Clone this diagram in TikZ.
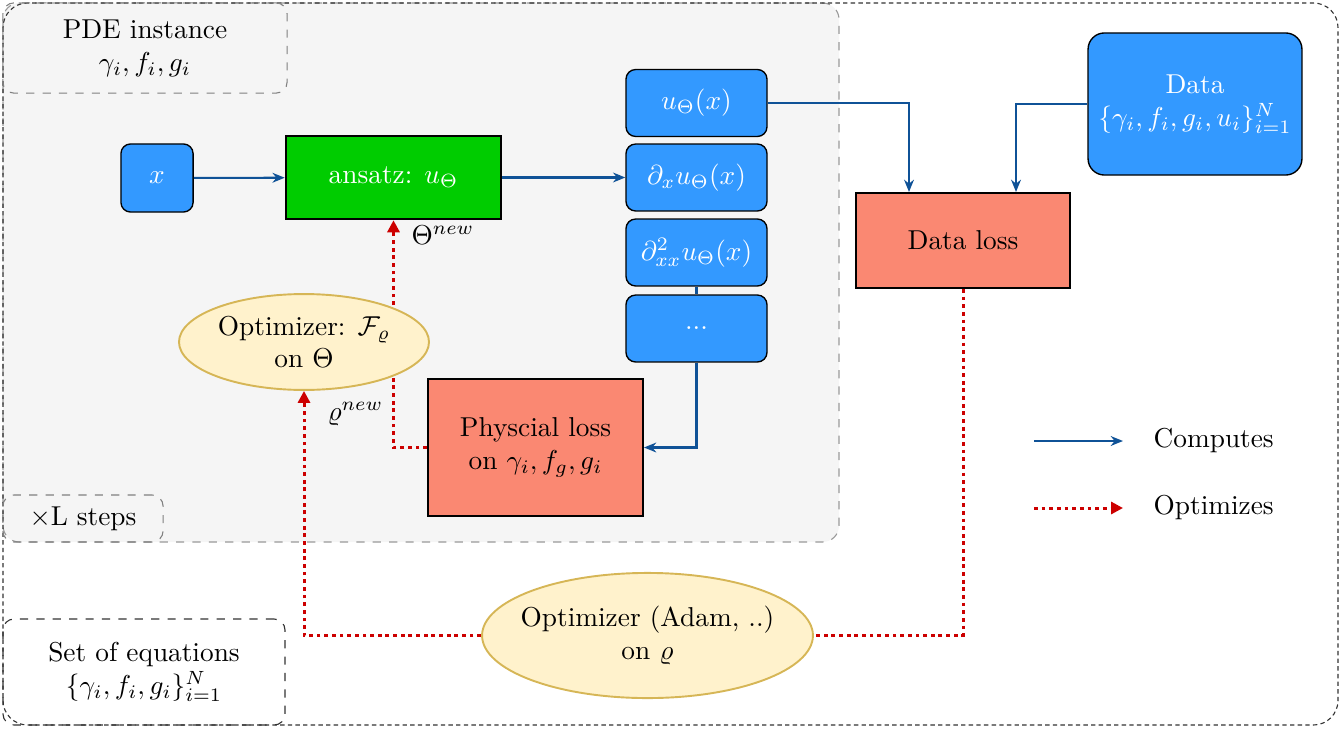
\documentclass[tikz,border=0pt]{standalone}
\usetikzlibrary{shapes.geometric,arrows.meta,calc,backgrounds}
\definecolor{boxblue}{HTML}{3399FF}
\definecolor{boxgreen}{HTML}{00CC00}
\definecolor{losscol}{HTML}{FA8872}
\definecolor{optfill}{HTML}{FFF2CC}
\definecolor{optline}{HTML}{D6B656}
\definecolor{lineblue}{HTML}{0F5297}
\definecolor{linered}{HTML}{CC0000}
\definecolor{regiongray}{HTML}{F5F5F5}
\begin{document}
\begin{tikzpicture}[x=0.366pt,y=-0.366pt,
  bluebox/.style={draw,fill=boxblue,text=white,rounded corners=3.5pt,line width=0.5pt,minimum width=51.6pt,minimum height=24.5pt,inner sep=0pt,align=center},
  lossbox/.style={draw,fill=losscol,line width=0.7pt,align=center,inner sep=0pt},
  optnode/.style={ellipse,draw=optline,fill=optfill,line width=0.7pt,align=center,inner ysep=0pt,inner xsep=-8pt},
  framebox/.style={draw=gray,dashed,rounded corners=4pt,inner sep=0pt,align=center},
  computes/.style={draw=lineblue,line width=0.75pt,-{Stealth[length=4.5pt,width=3.6pt]}},
  optimizes/.style={draw=linered,line width=1.1pt,dash pattern=on 1.4pt off 1.4pt,-{Triangle[length=4.4pt,width=4.4pt]}}]
\useasboundingbox (0,0) rectangle (1342,728);
\draw[draw=black!80,dash pattern=on 1.6pt off 1.2pt,rounded corners=9pt] (3,3) rectangle (1338,725);
\begin{scope}[on background layer]
\draw[draw=gray!80,dashed,fill=regiongray,rounded corners=6pt] (3,3) rectangle (839,542);
\end{scope}
\node[framebox,minimum width=104pt,minimum height=33pt] (pde) at (145,48) {PDE instance\\$\gamma_i, f_i, g_i$};
\node[framebox,minimum width=58.6pt,minimum height=17.2pt] (steps) at (83,518.5) {$\times$L steps};
\node[framebox,draw=black!80,minimum width=103.2pt,minimum height=38.8pt] (eqs) at (144,672) {Set of equations\\$\{\gamma_i, f_i, g_i\}_{i=1}^N$};
\node[bluebox,minimum width=26.4pt,minimum height=24.9pt] (x) at (157,178) {$x$};
\node[draw,fill=boxgreen,text=white,line width=0.9pt,minimum width=78.7pt,minimum height=30.4pt,inner sep=0pt] (ansatz) at (393.5,177.5) {ansatz: $u_\Theta$};
\node[bluebox] (u) at (696.5,103) {$u_\Theta(x)$};
\node[bluebox] (dx) at (696.5,177.5) {$\partial_x u_\Theta(x)$};
\node[bluebox] (dxx) at (696.5,252.5) {$\partial^2_{xx} u_\Theta(x)$};
\node[bluebox] (dots) at (696.5,328.5) {...};
\node[lossbox,minimum width=78.7pt,minimum height=50.1pt] (phys) at (535.5,447.5) {Physcial loss\\on $\gamma_i, f_g, g_i$};
\node[lossbox,minimum width=78.3pt,minimum height=34.8pt] (dloss) at (963,240.5) {Data loss};
\node[bluebox,rounded corners=6pt,minimum width=78.3pt,minimum height=52pt] (data) at (1195,104) {Data\\$\{\gamma_i, f_i, g_i, u_i\}_{i=1}^N$};
\node[optnode,minimum width=91.5pt,minimum height=35.1pt] (opt) at (304,342) {Optimizer: $\mathcal{F}_\varrho$\\on $\Theta$};
\node[optnode,minimum width=121.1pt,minimum height=45.8pt] (adam) at (647.5,635.5) {Optimizer (Adam, ..)\\on $\varrho$};
\draw[computes] (x) -- (ansatz);
\draw[computes] (ansatz) -- (dx);
\draw[draw=lineblue,line width=0.75pt] (dxx) -- (dots);
\draw[computes] (dots.south) |- (phys.east);
\draw[computes] (u.east) -| ($(dloss.north)+(-54,0)$);
\draw[computes] (data.west) -| ($(dloss.north)+(53,0)$);
\begin{scope}[on background layer]
\draw[optimizes] (phys.west) -| (ansatz.south);
\end{scope}
\draw[optimizes] (adam.west) -| (opt.south);
\draw[optimizes,-] (dloss.south) |- (adam.east);
\node[anchor=west,inner sep=0pt] (thetanew) at (411,235) {$\Theta^{new}$};
\node[anchor=west,inner sep=0pt] (rhonew) at (327,414) {$\varrho^{new}$};
\coordinate (ca) at (1034,441);
\coordinate (cb) at (1123,441);
\coordinate (oa) at (1034,508);
\coordinate (ob) at (1123,508);
\draw[computes] (ca) -- (cb);
\draw[optimizes] (oa) -- (ob);
\node[anchor=west] (comp) at (1144,441) {Computes};
\node[anchor=west] (optz) at (1144,508) {Optimizes};
\end{tikzpicture}
\end{document}
